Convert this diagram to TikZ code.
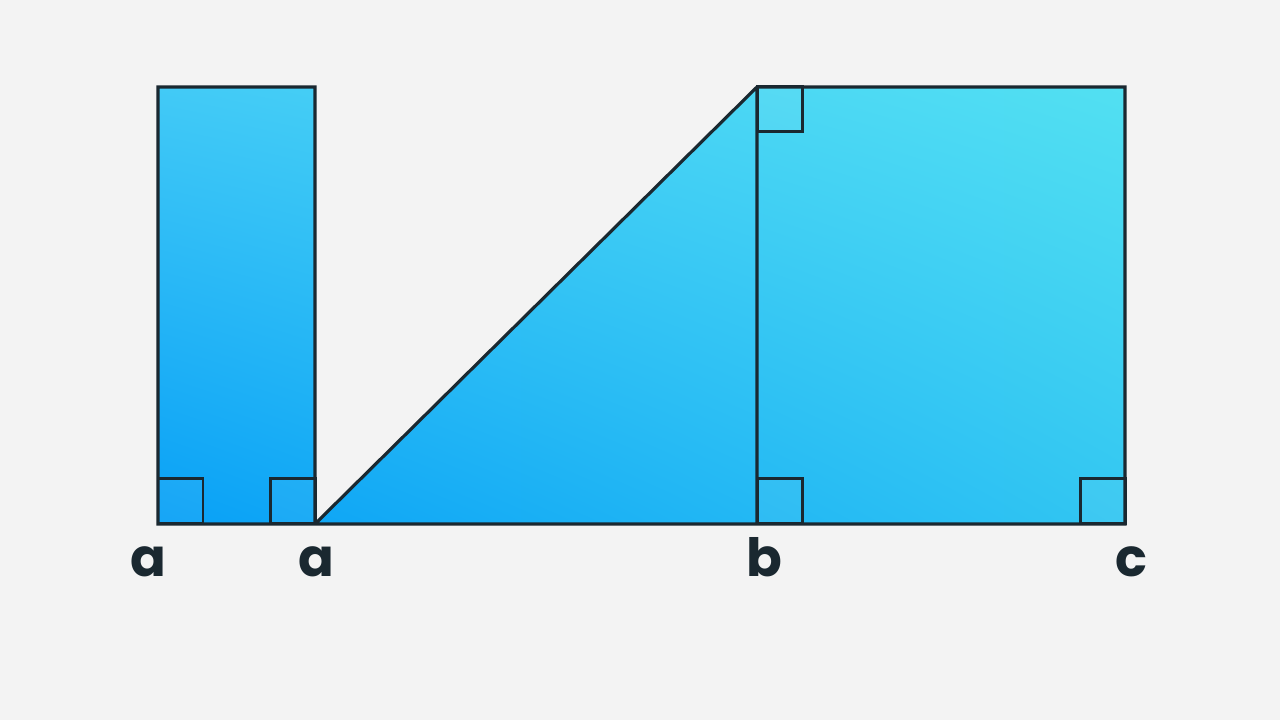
\documentclass[tikz,border=0pt]{standalone}
\usepackage{fontspec}
\setmainfont{Poppins}
\usetikzlibrary{shadings}
\definecolor{bgcol}{RGB}{243,243,243}
\definecolor{edgecol}{RGB}{26,40,48}
\definecolor{blueLL}{RGB}{8,160,246}
\definecolor{blueUL}{RGB}{66,202,246}
\definecolor{blueLR}{RGB}{50,198,242}
\definecolor{blueUR}{RGB}{82,224,242}
\begin{document}
\begin{tikzpicture}[line join=miter, font=\fontsize{15}{18}\selectfont\bfseries]
				\fill[bgcol] (0,0) rectangle (12.8,7.2);
				\useasboundingbox (0,0) rectangle (12.8,7.2);
				\path
				(1.58,1.96) coordinate (A1)
				(3.15,1.96) coordinate (A2)
				(1.58,6.33) coordinate (P)
				(3.15,6.33) coordinate (Q)
				(7.57,1.96) coordinate (B)
				(7.57,6.33) coordinate (R)
				(11.25,1.96) coordinate (C)
				(11.25,6.33) coordinate (S)
				;
				\shade[lower left=blueLL, upper left=blueUL, lower right=blueLR, upper right=blueUR]
				(A1)--(A2)--(Q)--(P)--cycle (A2)--(B)--(R)--cycle (B)--(C)--(S)--(R)--cycle;
				\foreach \p/\u/\v in {A1/1/1,A2/-1/1,R/1/-1,B/1/1,C/-1/1} \draw[edgecol, line width=0.85pt, fill=white, fill opacity=0.06] (\p) rectangle ++(0.45*\u,0.45*\v);
				\draw[edgecol, line width=0.9pt] (A1)--(A2)--(Q)--(P)--cycle (A2)--(C)--(S)--(R)--cycle (R)--(B);
				\foreach \p/\t/\d in {A1/a/-0.10,A2/a/0.01,B/b/0.07,C/c/0.06} \node[text=edgecol, anchor=base] (lab\p) at ([xshift=\d cm, yshift=-0.53cm]\p) {\t};
\end{tikzpicture}
\end{document}
